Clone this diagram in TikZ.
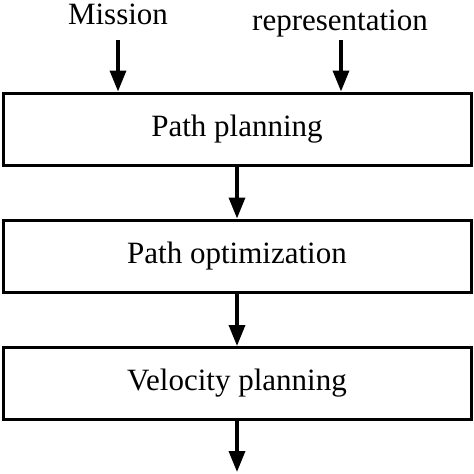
\documentclass[tikz,border=0pt]{standalone}
\usepackage{fontspec}
\setmainfont{Liberation Serif}
\usetikzlibrary{arrows.meta}
\begin{document}
\begin{tikzpicture}[x=1pt,y=-1pt,
    stagebox/.style={draw,line width=3pt,minimum width=468pt,minimum height=72pt,inner sep=0pt},
    flowarrow/.style={line width=3.5pt,-{Triangle[width=16pt,length=21pt]}}]
                        \useasboundingbox (0,0) rectangle (474,474);
                        {\fontsize{31}{37}\selectfont

                        % Drawing the three stages
                        \node [stagebox] (plan) at (237,129) {Path planning};%
                        \node [stagebox] (opt) at (237,256) {Path optimization};%
                        \node [stagebox] (vel) at (237,383.5) {Velocity planning};%

                        % Inputs on top
                        \node [anchor=base,inner sep=0pt] (mission) at (118,24) {Mission};%
                        \node [anchor=base,inner sep=0pt] (envrep) at (340,30) {representation};%
                        \coordinate (missionin) at (118,40);%
                        \coordinate (envin) at (341,40);%
                        \coordinate (out) at (237,472);%

                        % Drawing the arrows
                        \draw [flowarrow] (missionin) -- (missionin |- plan.north);%
                        \draw [flowarrow] (envin) -- (envin |- plan.north);%
                        \draw [flowarrow] (plan) -- (opt);%
                        \draw [flowarrow] (opt) -- (vel);%
                        \draw [flowarrow] (vel) -- (out);%
                        }
\end{tikzpicture}
\end{document}
